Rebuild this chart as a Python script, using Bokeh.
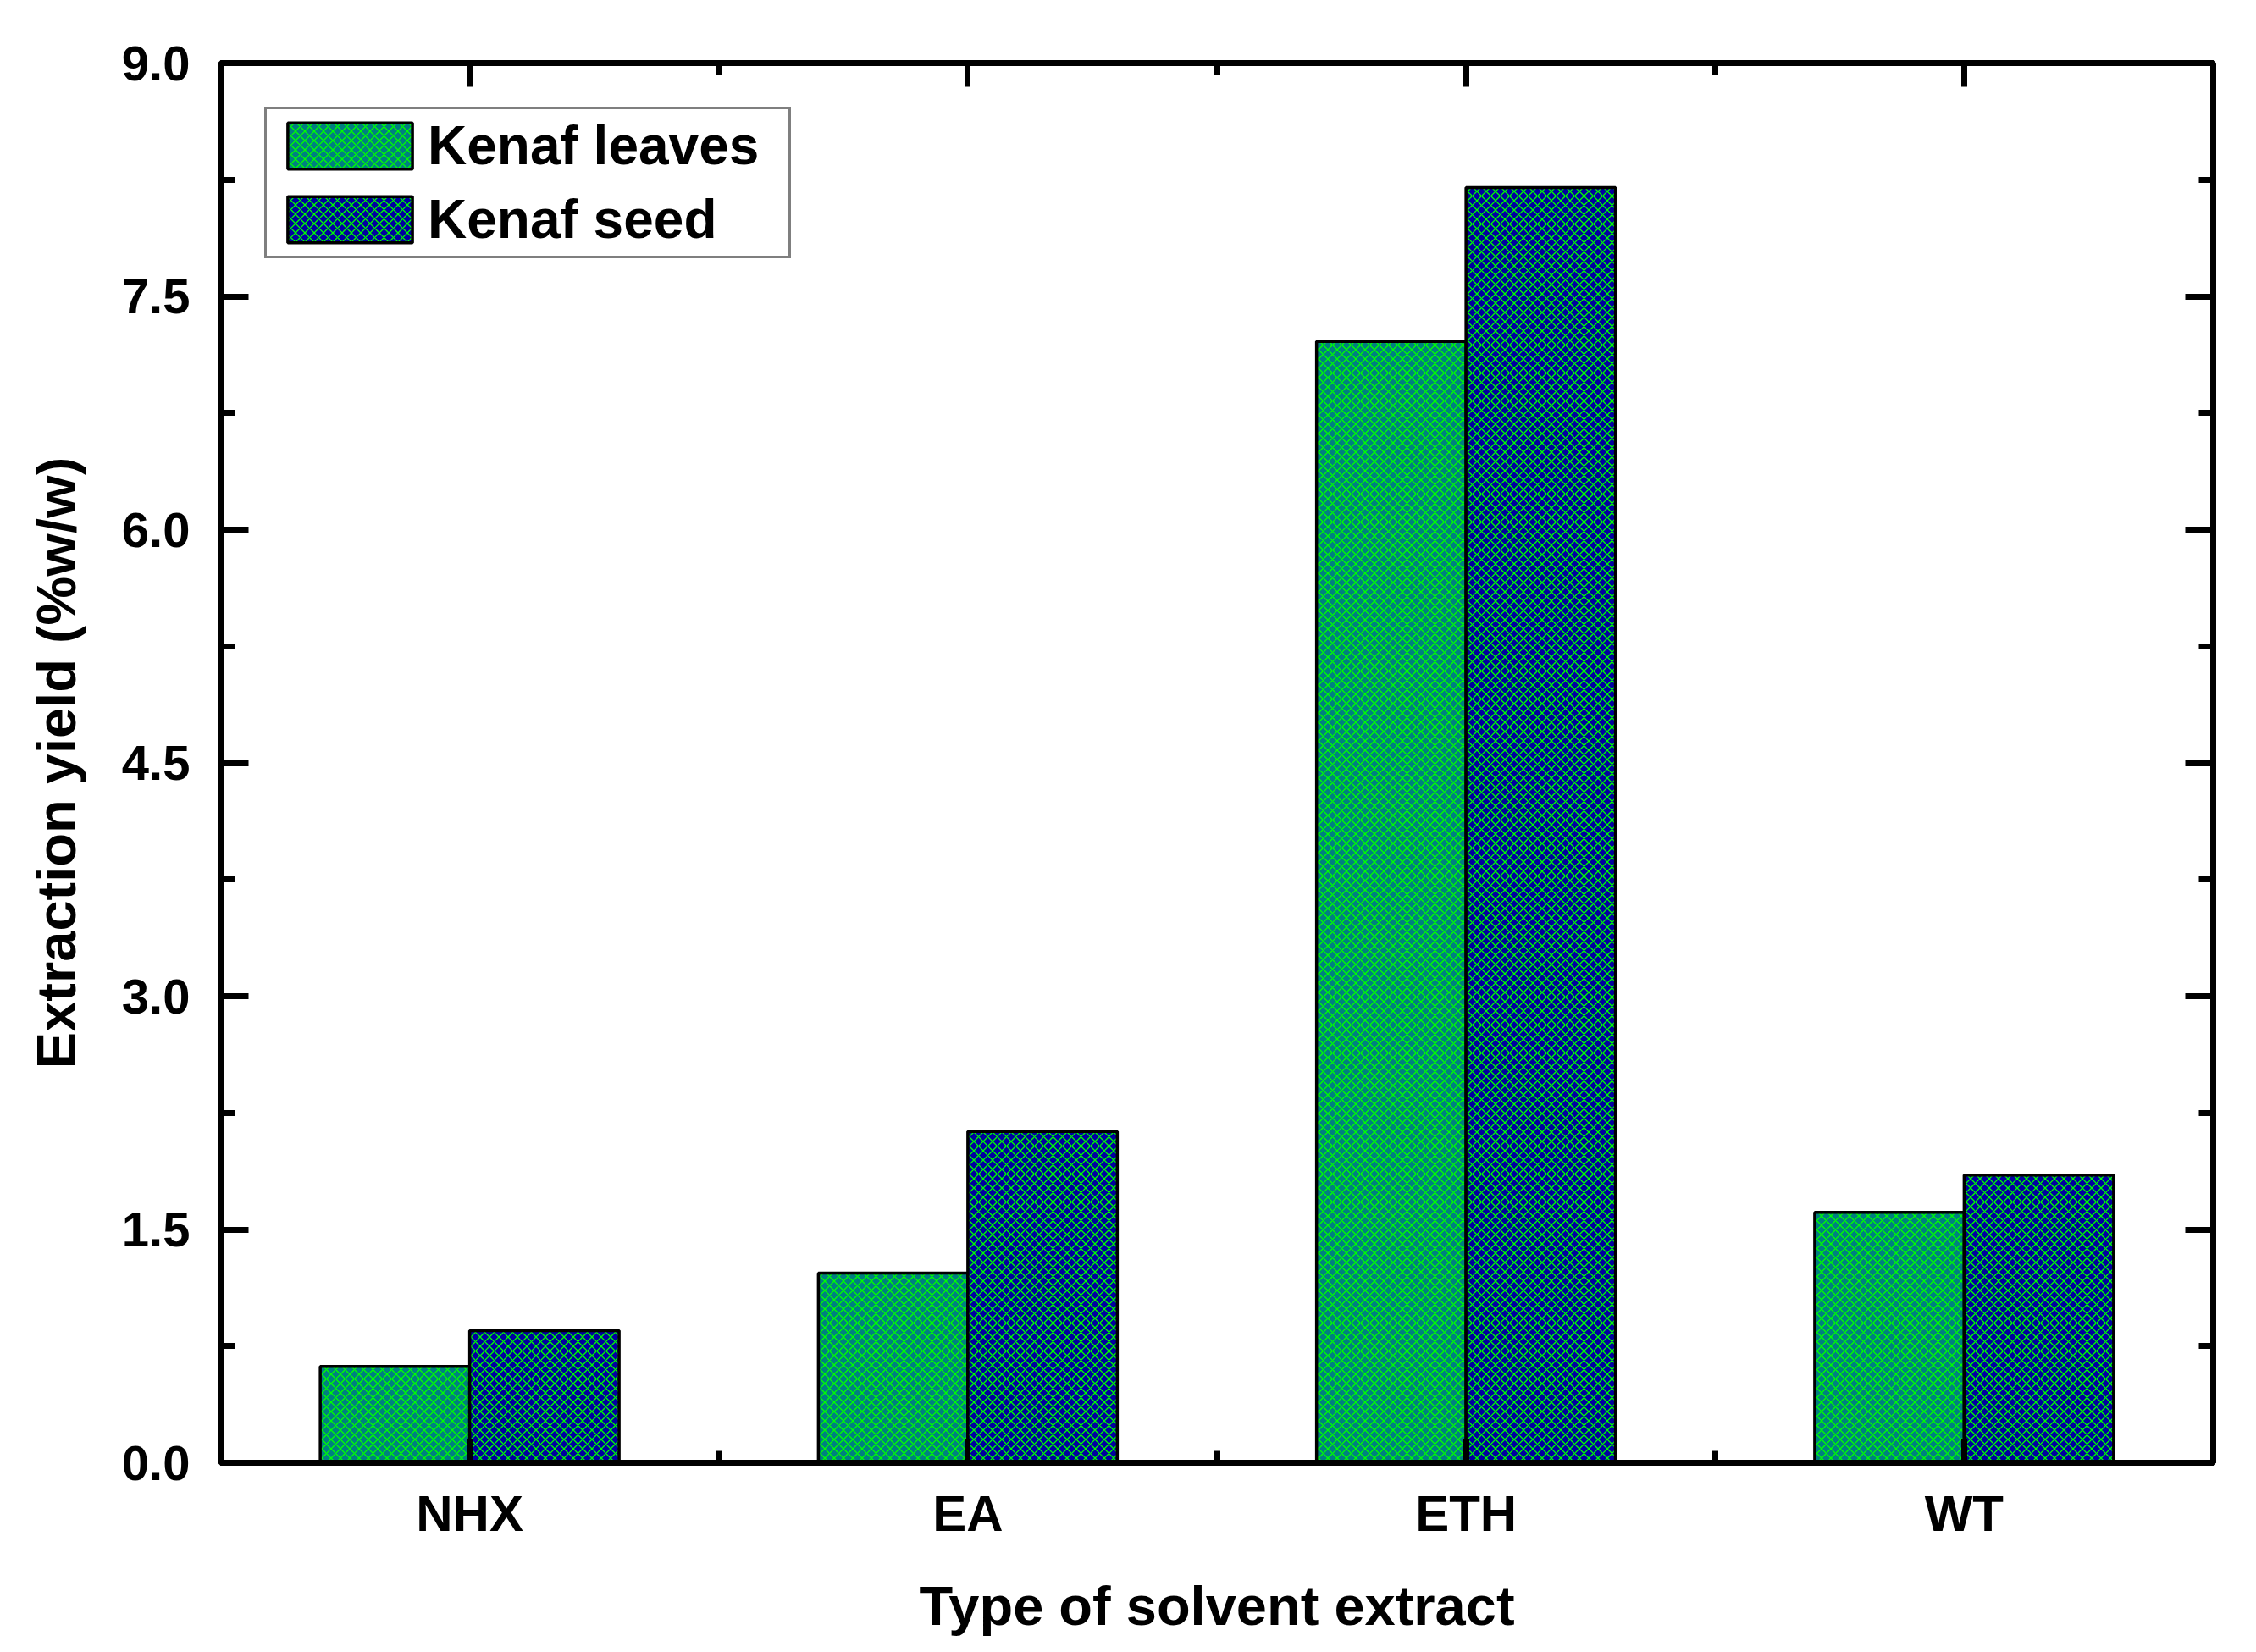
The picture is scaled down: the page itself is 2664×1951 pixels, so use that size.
from bokeh.plotting import figure
from bokeh.models import (Range1d, FixedTicker, LinearAxis, PrintfTickFormatter,
                          ColumnDataSource, CustomLabelingPolicy)
from bokeh.embed import file_html
from bokeh.resources import INLINE

# ---- data ----
categories = ["NHX", "EA", "ETH", "WT"]
kenaf_leaves = [0.62, 1.22, 7.21, 1.61]
kenaf_seed = [0.85, 2.13, 8.20, 1.85]
series_names = ["Kenaf leaves", "Kenaf seed"]
y_ticks = [0.0, 1.5, 3.0, 4.5, 6.0, 7.5, 9.0]
y_minor_ticks = [0.75, 2.25, 3.75, 5.25, 6.75, 8.25]
x_title = "Type of solvent extract"
y_title = "Extraction yield (%w/w)"

# ---- derived positions (category index on a linear scale) ----
centers = [i + 0.5 for i in range(len(categories))]
boundaries = [float(i) for i in range(1, len(categories))]
bar_w = 0.3
src = ColumnDataSource(dict(
    cat=categories,
    x_leaves=[c - bar_w / 2 for c in centers],
    x_seed=[c + bar_w / 2 for c in centers],
    leaves=kenaf_leaves,
    seed=kenaf_seed,
))

FONT = "Liberation Sans"

p = figure(frame_width=2353, frame_height=1653,
           min_border_left=260, min_border_right=35,
           min_border_top=74, min_border_bottom=208,
           x_range=Range1d(0, len(categories)), y_range=Range1d(0, 9),
           output_backend="svg", toolbar_location=None)
p.xgrid.visible = False
p.ygrid.visible = False
p.outline_line_color = "black"
p.outline_line_width = 7
p.background_fill_color = "white"
p.border_fill_color = "white"

leaf_fill = "#008080"
seed_fill = "#0000a0"
hatch_col = "#00ff00"

p.vbar(x="x_leaves", top="leaves", bottom=0, width=bar_w, source=src,
       fill_color=leaf_fill, line_color="black", line_width=3.5,
       hatch_pattern="diagonal_cross", hatch_color=hatch_col,
       hatch_scale=11, hatch_weight=1.3, legend_label=series_names[0])
p.vbar(x="x_seed", top="seed", bottom=0, width=bar_w, source=src,
       fill_color=seed_fill, line_color="black", line_width=3.5,
       hatch_pattern="diagonal_cross", hatch_color=hatch_col,
       hatch_scale=11, hatch_weight=1.3, legend_label=series_names[1])

def style_axis(ax, major_in, minor_in):
    ax.axis_line_width = 7
    ax.axis_line_color = "black"
    ax.major_tick_line_width = 7
    ax.minor_tick_line_width = 7
    ax.major_tick_in = major_in
    ax.major_tick_out = 0
    ax.minor_tick_in = minor_in
    ax.minor_tick_out = 0
    ax.major_label_text_font = FONT
    ax.major_label_text_font_style = "bold"
    ax.major_label_text_color = "black"
    ax.axis_label_text_font = FONT
    ax.axis_label_text_font_style = "bold"
    ax.axis_label_text_color = "black"

# bottom axis
xa = p.xaxis[0]
xa.ticker = FixedTicker(ticks=centers, minor_ticks=boundaries)
xa.major_label_overrides = {c: lab for c, lab in zip(centers, categories)}
style_axis(xa, 28, 14)
xa.major_label_text_font_size = "60px"
xa.major_label_standoff = 26
xa.axis_label = x_title
xa.axis_label_text_font_size = "65px"
xa.axis_label_standoff = 36

# left axis
ya = p.yaxis[0]
ya.ticker = FixedTicker(ticks=y_ticks, minor_ticks=y_minor_ticks)
ya.formatter = PrintfTickFormatter(format="%.1f")
style_axis(ya, 33, 17)
ya.major_label_text_font_size = "58px"
ya.major_label_standoff = 36
ya.axis_label = y_title
ya.axis_label_text_font_size = "65px"
ya.axis_label_standoff = 38

no_labels = CustomLabelingPolicy(code="return []")

# top axis (ticks only)
top = LinearAxis(ticker=FixedTicker(ticks=centers, minor_ticks=boundaries))
style_axis(top, 28, 14)
top.major_label_text_font_size = "10px"
top.major_label_standoff = 0
top.major_label_policy = no_labels
p.add_layout(top, "above")

# right axis (ticks only)
right = LinearAxis(ticker=FixedTicker(ticks=y_ticks, minor_ticks=y_minor_ticks))
style_axis(right, 33, 17)
right.major_label_text_font_size = "10px"
right.major_label_standoff = 0
right.major_label_policy = no_labels
p.add_layout(right, "right")

# legend
lg = p.legend[0]
lg.location = "top_left"
lg.margin = 52
lg.padding = 6
lg.spacing = 13
lg.glyph_width = 184
lg.glyph_height = 68
lg.label_standoff = 0
lg.label_width = 420
lg.label_text_font = FONT
lg.label_text_font_style = "bold"
lg.label_text_font_size = "64px"
lg.label_text_color = "black"
lg.label_height = 68
lg.border_line_color = "black"
lg.border_line_width = 3.5
lg.background_fill_color = "white"
lg.background_fill_alpha = 1.0

open("out.html", "w").write(file_html(p, INLINE))
